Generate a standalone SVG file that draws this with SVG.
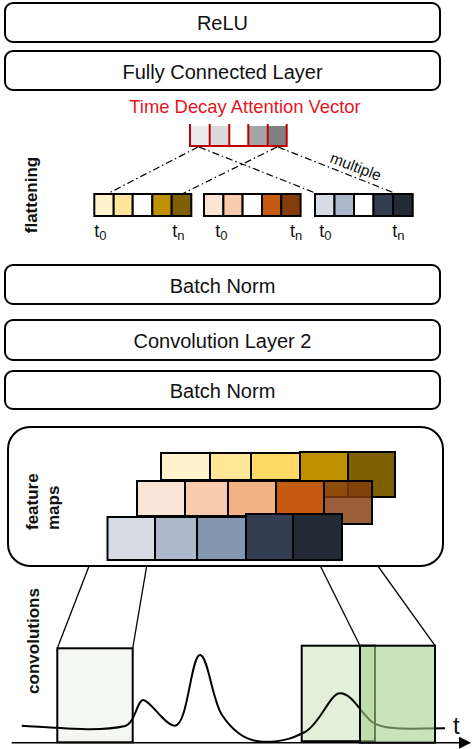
<svg xmlns="http://www.w3.org/2000/svg" width="474" height="749" viewBox="0 0 474 749">
<style>
.box{fill:#fff;stroke:#000;stroke-width:2}
.lbl{font-family:"Liberation Sans",Arial,sans-serif;font-size:20px;fill:#111;text-anchor:middle}
.side{font-family:"Liberation Sans",Arial,sans-serif;font-size:17px;font-weight:bold;fill:#111}
.cell{stroke:#000;stroke-width:2}
.fm{stroke:#000;stroke-width:2}
.dd{fill:none;stroke:#000;stroke-width:1.2;stroke-dasharray:7 3 1.5 3}
.ln{fill:none;stroke:#000;stroke-width:1.3}
.tt{font-family:"Liberation Sans",Arial,sans-serif;font-size:18px;fill:#111}
</style>
<defs>
<marker id="arr" markerWidth="12" markerHeight="12" refX="11" refY="6" orient="auto" markerUnits="userSpaceOnUse">
<path d="M0,0 L12,6 L0,12 Z" fill="#000"/>
</marker>
</defs>

<g id="relu"><rect class="box" x="5" y="3" width="435" height="39" rx="8"/><text class="lbl" x="222.5" y="30">ReLU</text></g>
<g id="fully-connected"><rect class="box" x="5" y="51" width="435" height="39" rx="8"/><text class="lbl" x="222.5" y="79">Fully Connected Layer</text></g>

<g id="attention-vector">
<text x="245" y="112.5" font-family="Liberation Sans,Arial,sans-serif" font-size="18.4" fill="#e3161e" text-anchor="middle">Time Decay Attention Vector</text>
<rect x="190" y="126" width="19.3" height="20" fill="#ebebeb"/>
<rect x="210" y="126" width="19.3" height="20" fill="#d9d9d9"/>
<rect x="248.3" y="126" width="19.3" height="20" fill="#a6a6a6"/>
<rect x="267.7" y="126" width="19" height="20" fill="#808080"/>
<path d="M190,124 V146 H286.7 V124 M209.7,124 V146 M229.3,124 V146 M248.3,124 V146 M267.7,124 V146" fill="none" stroke="#c00000" stroke-width="2"/>
</g>

<g id="connectors">
<line class="dd" x1="198" y1="147" x2="107" y2="194"/>
<line class="dd" x1="199" y1="147" x2="318" y2="194"/>
<line class="dd" x1="277" y1="147" x2="182" y2="194"/>
<line class="dd" x1="278" y1="147" x2="397" y2="194"/>
<line class="ln" x1="108" y1="517" x2="57.3" y2="648.3"/>
<line class="ln" x1="155" y1="517" x2="132.7" y2="648.3"/>
<line class="ln" x1="295.5" y1="516" x2="360" y2="645.7"/>
<line class="ln" x1="342" y1="516" x2="435" y2="645.7"/>
</g>
<text x="329" y="162" font-family="Liberation Sans,Arial,sans-serif" font-size="15.5" fill="#111" transform="rotate(21 329 162)">multiple</text>

<g id="flattened-1">
<rect class="cell" x="94.3" y="194" width="19.4" height="22" fill="#FFF2CC"/>
<rect class="cell" x="113.7" y="194" width="19" height="22" fill="#FFE699"/>
<rect class="cell" x="132.7" y="194" width="19.6" height="22" fill="#fff"/>
<rect class="cell" x="152.3" y="194" width="19.4" height="22" fill="#BF9000"/>
<rect class="cell" x="171.7" y="194" width="19.6" height="22" fill="#7F6000"/>
<text class="tt" x="94.3" y="237">t<tspan font-size="13" dy="3">0</tspan></text>
<text class="tt" x="172.3" y="237">t<tspan font-size="13" dy="3">n</tspan></text>
</g>
<g id="flattened-2">
<rect class="cell" x="204" y="194" width="19.4" height="22" fill="#FBE5D6"/>
<rect class="cell" x="223.4" y="194" width="19.2" height="22" fill="#F8CBAD"/>
<rect class="cell" x="242.6" y="194" width="19.4" height="22" fill="#fff"/>
<rect class="cell" x="262" y="194" width="19.2" height="22" fill="#C55A11"/>
<rect class="cell" x="281.2" y="194" width="19.4" height="22" fill="#843C0C"/>
<text class="tt" x="215.3" y="237">t<tspan font-size="13" dy="3">0</tspan></text>
<text class="tt" x="290" y="237">t<tspan font-size="13" dy="3">n</tspan></text>
</g>
<g id="flattened-3">
<rect class="cell" x="315" y="194" width="19.5" height="22" fill="#D6DCE5"/>
<rect class="cell" x="334.5" y="194" width="19.5" height="22" fill="#ADB9CA"/>
<rect class="cell" x="354" y="194" width="19.5" height="22" fill="#fff"/>
<rect class="cell" x="373.5" y="194" width="19.5" height="22" fill="#333F50"/>
<rect class="cell" x="393" y="194" width="19.7" height="22" fill="#222A35"/>
<text class="tt" x="319.3" y="237">t<tspan font-size="13" dy="3">0</tspan></text>
<text class="tt" x="392.3" y="237">t<tspan font-size="13" dy="3">n</tspan></text>
</g>
<text class="side" transform="translate(37 195) rotate(-90)" text-anchor="middle">flattening</text>

<g id="batch-norm-1"><rect class="box" x="5" y="265" width="435" height="39" rx="8"/><text class="lbl" x="222.5" y="292.5">Batch Norm</text></g>
<g id="conv-layer-2"><rect class="box" x="5" y="320" width="435" height="40" rx="8"/><text class="lbl" x="222.5" y="348">Convolution Layer 2</text></g>
<g id="batch-norm-2"><rect class="box" x="5" y="371" width="435" height="38" rx="8"/><text class="lbl" x="222.5" y="397.5">Batch Norm</text></g>

<g id="feature-maps">
<rect x="8" y="427" width="435" height="139" rx="22" fill="#fff" stroke="#000" stroke-width="2"/>
<text class="side" transform="translate(37.5 530) rotate(-90)">feature</text>
<text class="side" transform="translate(59 530) rotate(-90)">maps</text>
<rect class="fm" x="161" y="453" width="49" height="27" fill="#FFF2CC"/>
<rect class="fm" x="210" y="453" width="41" height="27" fill="#FFE699"/>
<rect class="fm" x="251" y="453" width="49" height="27" fill="#FFD966"/>
<rect class="fm" x="300" y="452" width="48" height="45" fill="#BF9000"/>
<rect class="fm" x="348" y="452" width="47" height="45" fill="#7F6000"/>
<rect class="fm" x="137" y="481" width="48" height="35" fill="#FBE5D6"/>
<rect class="fm" x="185" y="481" width="43" height="35" fill="#F8CBAD"/>
<rect class="fm" x="228" y="481" width="48" height="35" fill="#F4B183"/>
<rect class="fm" x="276" y="481" width="48" height="35" fill="#C55A11"/>
<rect class="fm" x="324" y="481" width="48" height="43" fill="#843C0C" fill-opacity="0.82"/>
<rect class="fm" x="107.5" y="517" width="47.5" height="43" fill="#D6DCE5"/>
<rect class="fm" x="155" y="517" width="42" height="43" fill="#ADB9CA"/>
<rect class="fm" x="197" y="517" width="49" height="43" fill="#8497B0"/>
<rect class="fm" x="246" y="514" width="47" height="46" fill="#333F50"/>
<rect class="fm" x="293" y="514" width="49" height="46" fill="#222A35"/>
</g>

<text class="side" transform="translate(38.5 641) rotate(-90)" text-anchor="middle">convolutions</text>

<g id="conv-window-1"><rect x="57.3" y="648.3" width="75.4" height="94" fill="#f5f7f2" stroke="#000" stroke-width="2"/></g>
<g id="conv-window-2"><rect x="301.7" y="645.7" width="73.3" height="95.5" fill="#e2efd9" stroke="#000" stroke-width="2"/></g>
<g id="signal">
<path d="M21.7,725.7 C60,728 100,732 125,726 C136,722 137,700 143.3,700 C150,700 165,726 175,725.7 C188,725 191,655 200,655 C208,655 212,700 222,715 C232,730 245,741.5 263,741.7 C285,742 295,737 305,732 C320,724 330,693.3 340,693.3 C352,693.3 360,712 372,722 C385,731 410,728.3 445,728.3" fill="none" stroke="#000" stroke-width="2"/>
</g>
<g id="conv-window-3"><rect x="360" y="645.7" width="75" height="97" fill="#a9d18e" fill-opacity="0.6" stroke="#000" stroke-width="2"/></g>

<g id="time-axis">
<line x1="11.7" y1="742.7" x2="470" y2="742.7" stroke="#000" stroke-width="1.5" marker-end="url(#arr)"/>
<text x="453" y="734" font-family="Liberation Sans,Arial,sans-serif" font-size="24" fill="#111">t</text>
</g>
</svg>
